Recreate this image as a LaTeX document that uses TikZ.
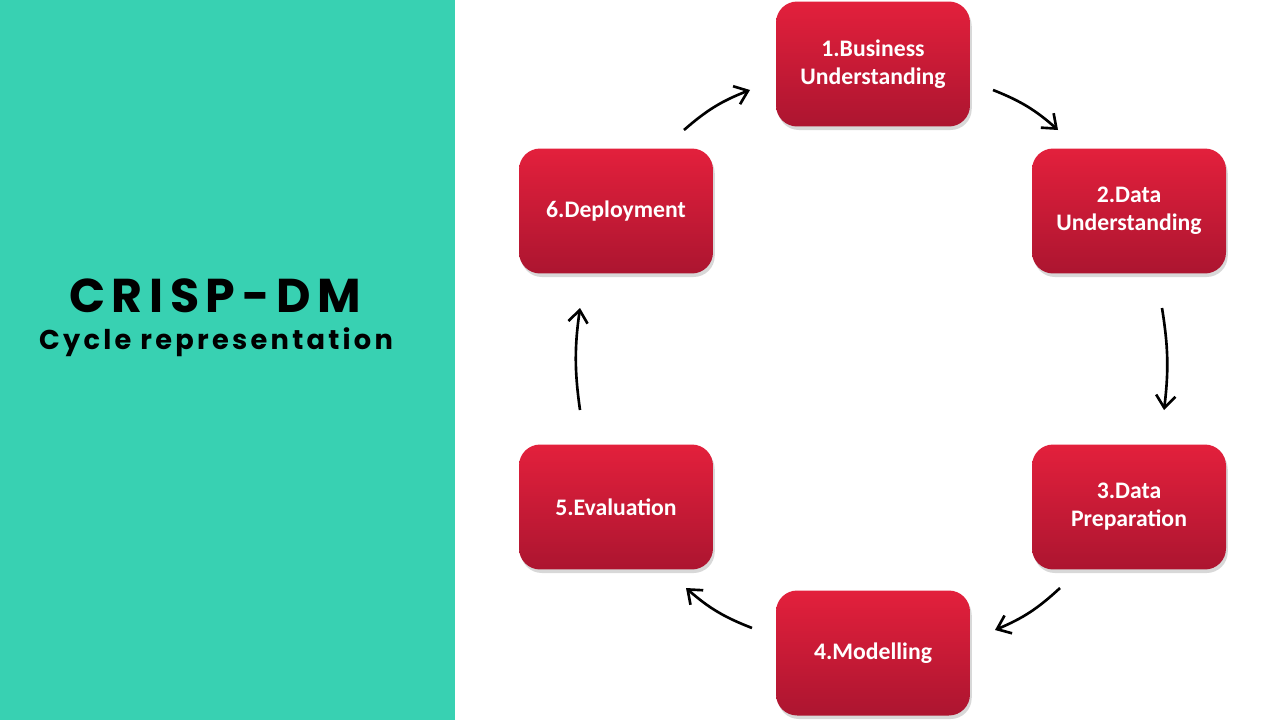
\documentclass[tikz,border=0pt]{standalone}
\usepackage{fontspec}
\setmainfont{Carlito}
\newfontfamily\titlefont[LetterSpace=14]{Poppins}
\newfontfamily\subfont[LetterSpace=12]{Poppins}
\usetikzlibrary{arrows.meta,shadows}
\definecolor{teal1}{HTML}{38D1B2}
\definecolor{redtop}{HTML}{E3203C}
\definecolor{redbot}{HTML}{AC1530}
\tikzset{
  stage/.style={rounded corners=12pt, minimum width=3.88cm, minimum height=2.5cm,
    top color=redtop, bottom color=redbot, draw=none, text=white,
    align=center, font=\bfseries\fontsize{13.5}{16}\selectfont,
    drop shadow={shadow xshift=1pt,shadow yshift=-2pt,opacity=0.3}},
  cyc/.style={line width=1.5pt, -{Straight Barb[length=7pt,width=11pt]}}
}
\begin{document}
\begin{tikzpicture}[x=0.02cm,y=-0.02cm]
\useasboundingbox (0,0) rectangle (1280,720);
\fill[white] (0,0) rectangle (1280,720);
\fill[teal1] (0,0) rectangle (455,720);
\node (t1) at (215,296) {\titlefont\bfseries\fontsize{27}{30}\selectfont CRISP-DM};
\node (t2) at (216,342) {\subfont\bfseries\fontsize{15.5}{18}\selectfont Cycle representation};
\node[stage] (b1) at (873,64) {1.Business\\Understanding};
\node[stage] (b2) at (1129,211) {2.Data\\Understanding};
\node[stage] (b3) at (1129,507) {3.Data\\Preparation};
\node[stage] (b4) at (873,653) {4.Modelling};
\node[stage] (b5) at (616,507) {5.Evaluation};
\node[stage] (b6) at (616,211) {6.Deployment};
\coordinate (a1s) at (993,90); \coordinate (a1e) at (1058,130);
\coordinate (a2s) at (1162,308); \coordinate (a2e) at (1164,410);
\coordinate (a3s) at (1060,588); \coordinate (a3e) at (995,630);
\coordinate (a4s) at (752,628); \coordinate (a4e) at (686,588);
\coordinate (a5s) at (580,410); \coordinate (a5e) at (580,308);
\coordinate (a6s) at (684,130); \coordinate (a6e) at (750,90);
\draw[cyc] (a1s) to[bend left=10] (a1e);
\draw[cyc] (a2s) to[bend left=8] (a2e);
\draw[cyc] (a3s) to[bend right=-10] (a3e);
\draw[cyc] (a4s) to[bend left=10] (a4e);
\draw[cyc] (a5s) to[bend left=8] (a5e);
\draw[cyc] (a6s) to[bend left=10] (a6e);
\end{tikzpicture}
\end{document}
